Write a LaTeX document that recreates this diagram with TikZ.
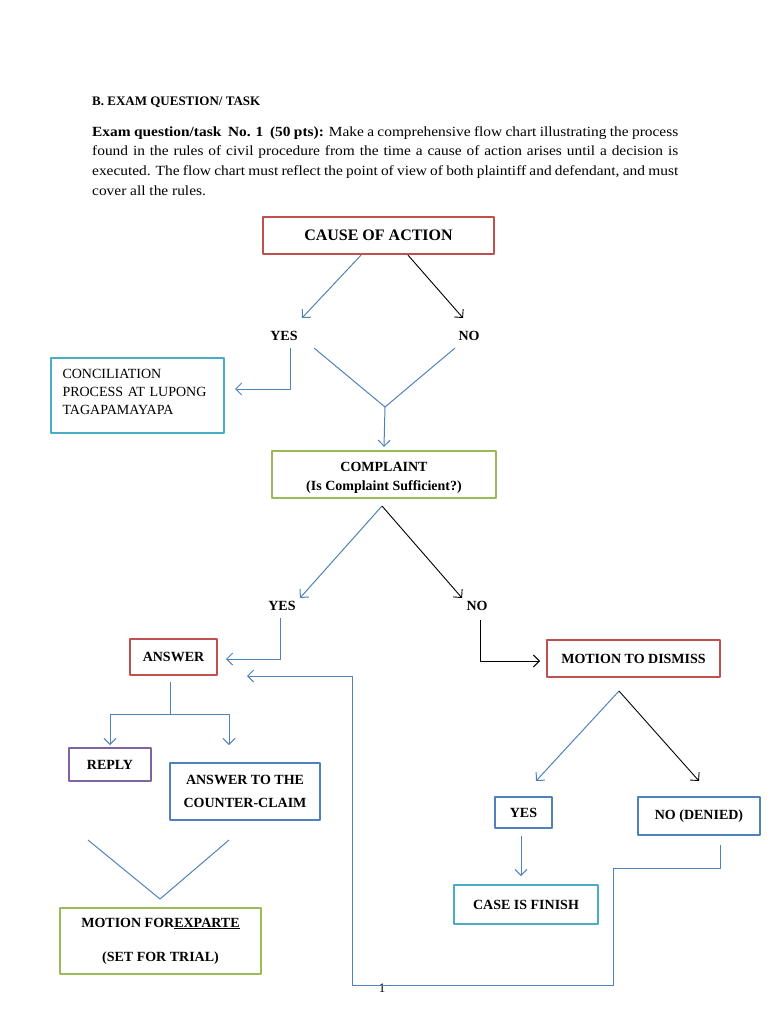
\documentclass[tikz,border=0pt]{standalone}
\usepackage{fontspec}
\setmainfont{Liberation Serif}
\newfontfamily\taskfont{Liberation Serif}[FakeStretch=1.1]
\usetikzlibrary{arrows.meta}
\definecolor{boxred}{HTML}{C0504D}
\definecolor{boxgreen}{HTML}{9BBB59}
\definecolor{boxcyan}{HTML}{4BACC6}
\definecolor{boxblue}{HTML}{4F81BD}
\definecolor{boxpurple}{HTML}{8064A2}
\definecolor{linkblue}{HTML}{4F81BD}
\begin{document}
\begin{tikzpicture}[x=1pt,y=-1pt,>={Straight Barb[length=6pt,width=12pt]},line join=round,
	font=\fontsize{14}{17}\selectfont\bfseries,
	box/.style={draw,line width=2.3pt,inner sep=2pt,align=center},
	blk/.style={->,black,line width=0.9pt},
	blu/.style={->,linkblue,line width=1pt},
	bare/.style={linkblue,line width=1pt}]
				\useasboundingbox (0,0) rectangle (768,1024);
				\node[anchor=base west,inner sep=0pt,font=\fontsize{13}{16}\selectfont\bfseries] (title) at (92,106) {B. EXAM QUESTION/ TASK};
				\node[anchor=north west,text width=586pt,inner sep=0pt,align=justify,font=\taskfont\fontsize{14}{19.7}\selectfont] (task) at (92,126)
				{\textbf{Exam question/task\ \ No. 1\ \ (50 pts):} Make a comprehensive flow chart illustrating the process\linebreak
				found in the rules of civil procedure from the time a cause of action arises until a decision is\linebreak
				executed. The flow chart must reflect the point of view of both plaintiff and defendant, and must\linebreak
				cover all the rules.\hfill\null};
				% boxes
				\node[box,draw=boxred,minimum width=231pt,minimum height=37pt,font=\fontsize{16}{20}\selectfont\bfseries] (cause) at (378.5,235.5) {CAUSE OF ACTION};
				\node[box,draw=boxcyan,minimum width=173pt,minimum height=75pt,text width=150pt,align=left,font=\fontsize{14}{18}\selectfont] (concil) at (137.5,395.5) {CONCILIATION\\PROCESS AT LUPONG\\TAGAPAMAYAPA\\[-10pt]\mbox{}};
				\node[box,draw=boxgreen,minimum width=224pt,minimum height=47pt,font=\fontsize{14}{19}\selectfont\bfseries] (complaint) at (384,474.5) {\rule{0pt}{16pt}COMPLAINT\\(Is Complaint Sufficient?)};
				\node[box,draw=boxred,minimum width=87pt,minimum height=36pt] (answer) at (173.5,657) {ANSWER};
				\node[box,draw=boxpurple,minimum width=82pt,minimum height=33pt] (reply) at (110,764.5) {REPLY};
				\node[box,draw=boxblue,minimum width=150pt,minimum height=57pt,font=\fontsize{14}{23}\selectfont\bfseries] (counter) at (245,791.5) {ANSWER TO THE\\COUNTER-CLAIM};
				\node[box,draw=boxgreen,minimum width=201pt,minimum height=66pt] (exparte) at (160.5,941) {MOTION FOR\underline{EXPARTE}\\[17pt](SET FOR TRIAL)};
				\node[box,draw=boxred,minimum width=173pt,minimum height=37pt] (dismiss) at (633.5,658.5) {MOTION TO DISMISS};
				\node[box,draw=boxblue,minimum width=57pt,minimum height=31pt] (yesbox) at (523.5,812.5) {YES};
				\node[box,draw=boxblue,minimum width=122pt,minimum height=38pt] (denied) at (699,816) {NO (DENIED)};
				\node[box,draw=boxcyan,minimum width=144pt,minimum height=39pt] (finish) at (526,904.5) {CASE IS FINISH};
				% labels
				\foreach \n/\t/\x/\y in {yesA/YES/284/336,noA/NO/469/336,yesB/YES/282/606,noB/NO/477/606}
				\node (\n) at (\x,\y) {\t};
				\node[font=\fontsize{13}{16}\selectfont] (page) at (382,988) {1};
				\path
				(302,318) coordinate (yA)
				(463,318) coordinate (nA)
				(290,348) coordinate (yA1)
				(235,389) coordinate (cl)
				(314,348) coordinate (vA1)
				(385,407) coordinate (vA)
				(455,348) coordinate (vA2)
				(382,506) coordinate (cpB)
				(300,598) coordinate (yB)
				(462,598) coordinate (nB)
				(280,618) coordinate (yB1)
				(226,659) coordinate (an)
				(480,620) coordinate (nB1)
				(540,661) coordinate (md)
				(170,682) coordinate (an1)
				(170,714) coordinate (fork)
				(110,745) coordinate (rp)
				(229,745) coordinate (cc)
				(88,840) coordinate (vB1)
				(160,899) coordinate (vB)
				(229,840) coordinate (vB2)
				(619,691) coordinate (mdB)
				(536,781) coordinate (yC)
				(699,781) coordinate (nC)
				(521,836) coordinate (ys1)
				(521,876) coordinate (fi)
				(720,845) coordinate (dn1)
				(613,868) coordinate (lp1)
				(352,985) coordinate (lp2)
				(247,676) coordinate (an2)
				;
				% connectors
				\draw[blu] ([xshift=-17.5pt]cause.south) -- (yA);
				\draw[blk] ([xshift=29.5pt]cause.south) -- (nA);
				\draw[blu] (yA1) |- (cl);
				\draw[bare] (vA1) -- (vA) -- (vA2);
				\draw[blu] (vA) -- ([yshift=3pt]complaint.north);
				\draw[blu] (cpB) -- (yB);
				\draw[blk] (cpB) -- (nB);
				\draw[blu] (yB1) |- (an);
				\draw[blk] (nB1) |- (md);
				\draw[bare] (an1) -- (fork);
				\draw[blu] (fork) -| (rp);
				\draw[blu] (fork) -| (cc);
				\draw[bare] (vB1) -- (vB) -- (vB2);
				\draw[blu] (mdB) -- (yC);
				\draw[blk] (mdB) -- (nC);
				\draw[blu] (ys1) -- (fi);
				\draw[blu] (dn1) |- (lp1) |- (lp2) |- (an2);
			\end{tikzpicture}
\end{document}
